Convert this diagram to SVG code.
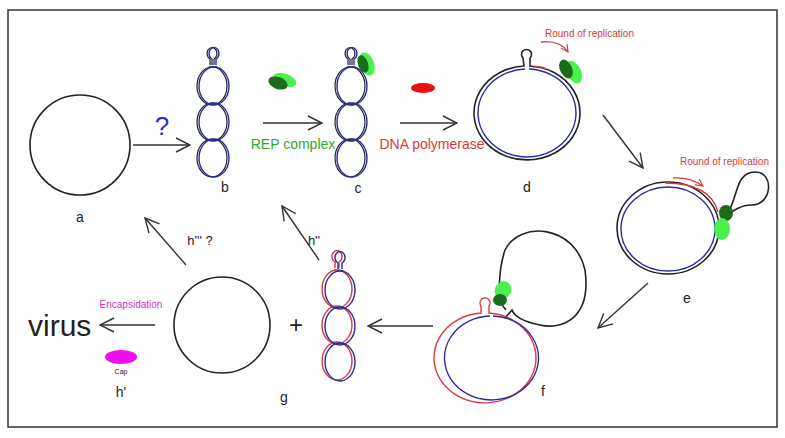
<svg xmlns="http://www.w3.org/2000/svg" width="785" height="438" viewBox="0 0 785 438">
<defs>
<style>
.t{font-family:"Liberation Sans",Arial,sans-serif;fill:#222}
.c{fill:none;stroke:#222;stroke-width:1.6}
.bl{fill:none;stroke:#2a2aa0;stroke-width:1.4}
.rd{fill:none;stroke:#d83a3a;stroke-width:1.4}
.ar{fill:none;stroke:#333;stroke-width:1.4;marker-end:url(#m)}
</style>
<marker id="m" viewBox="0 0 16 16" refX="15" refY="8" markerWidth="16" markerHeight="16" markerUnits="userSpaceOnUse" orient="auto"><path d="M1 1L15 8L1 15" fill="none" stroke="#333" stroke-width="1.4"/></marker>
<marker id="mr" viewBox="0 0 10 10" refX="9" refY="5" markerWidth="9" markerHeight="9" markerUnits="userSpaceOnUse" orient="auto"><path d="M1 1L9 5L1 9" fill="none" stroke="#d83a3a" stroke-width="1.3"/></marker>
<g id="hp">
<path d="M-2 -57V-63A5 6 0 1 1 2 -63V-57"/><path d="M-2 -56V-54M2 -56V-54"/>
<ellipse cx="0" cy="-36" rx="15" ry="19"/><ellipse cx="0" cy="0" rx="15" ry="19"/><ellipse cx="0" cy="36" rx="15" ry="19"/>
</g>
</defs>
<rect x="8" y="10" width="769" height="417" fill="#fff" stroke="#333" stroke-width="1.5"/>
<g id="connectors">
<line class="ar" x1="133" y1="145" x2="190" y2="145"/>
<line class="ar" x1="263" y1="123" x2="322" y2="123"/>
<line class="ar" x1="400" y1="123" x2="457" y2="123"/>
<line class="ar" x1="603" y1="115" x2="643" y2="168"/>
<line class="ar" x1="648" y1="283" x2="598" y2="328"/>
<line class="ar" x1="433" y1="326" x2="368" y2="326"/>
<line class="ar" x1="186" y1="265" x2="145" y2="218"/>
<line class="ar" x1="319" y1="260" x2="282" y2="206"/>
<line class="ar" x1="155" y1="325" x2="100" y2="325"/>
<path d="M541 42Q560 40 568 52" fill="none" stroke="#d83a3a" stroke-width="1.3" marker-end="url(#mr)"/>
<path d="M673 178Q690 177 703 186" fill="none" stroke="#d83a3a" stroke-width="1.3" marker-end="url(#mr)"/>
</g>
<g id="node-a"><circle class="c" cx="80" cy="145" r="50"/><text class="t" x="80" y="222" font-size="14" text-anchor="middle">a</text></g>
<text x="162" y="135" font-size="26" fill="#2a2ad0" font-family="Liberation Sans,sans-serif" text-anchor="middle">?</text>
<g id="node-b"><use href="#hp" x="212" y="122" class="c" style="stroke-width:1.2"/><use href="#hp" x="214" y="122" class="bl"/><text class="t" x="225" y="192" font-size="14" text-anchor="middle">b</text></g>
<g id="rep"><ellipse cx="285" cy="80" rx="12" ry="6" fill="#4cf04c" transform="rotate(20 285 80)"/><ellipse cx="278" cy="83" rx="10" ry="6" fill="#1a6b1a" transform="rotate(20 278 83)"/></g>
<text x="293" y="149" font-size="14" fill="#2fa82f" font-family="Liberation Sans,sans-serif" text-anchor="middle">REP complex</text>
<g id="node-c"><use href="#hp" x="350" y="122" class="c" style="stroke-width:1.2"/><use href="#hp" x="352" y="122" class="bl"/>
<ellipse cx="367" cy="64" rx="7" ry="12" fill="#4cf04c" transform="rotate(-20 367 64)"/><ellipse cx="363" cy="64" rx="5" ry="9" fill="#1a6b1a" transform="rotate(-20 363 64)"/>
<text class="t" x="358" y="193" font-size="14" text-anchor="middle">c</text></g>
<ellipse cx="423" cy="88" rx="12" ry="5" fill="#e81010"/>
<text x="432" y="149" font-size="14" fill="#d83a3a" font-family="Liberation Sans,sans-serif" text-anchor="middle">DNA polymerase</text>
<g id="node-d">
<path class="c" d="M524 66A53 47 0 1 0 530 66V58A5 5 0 1 0 523 58Z"/>
<path class="bl" d="M525 69A49 44 0 1 0 529 69"/>
<path d="M533 67Q542 66 546 69" stroke="#d83a3a" fill="none" stroke-width="1.3"/>
<ellipse cx="574" cy="72" rx="7" ry="12" fill="#4cf04c" transform="rotate(-25 574 72)"/><ellipse cx="566" cy="69" rx="6" ry="10" fill="#1a6b1a" transform="rotate(-25 566 69)"/>
<text class="t" x="527" y="192" font-size="14" text-anchor="middle">d</text>
<text x="545" y="37" font-size="10" fill="#d83a3a" font-family="Liberation Sans,sans-serif">Round of replication</text></g>
<g id="node-e">
<ellipse class="c" cx="668" cy="228" rx="51" ry="46"/>
<ellipse class="bl" cx="668" cy="229" rx="47" ry="42"/>
<path d="M665 183Q710 183 718 212" stroke="#d83a3a" fill="none" stroke-width="1.3"/>
<path class="c" d="M720 222C735 208 742 205 752 205C772 205 775 172 755 172C735 172 738 198 728 212"/>
<ellipse cx="726" cy="213" rx="7" ry="8" fill="#1a6b1a"/><ellipse cx="722" cy="229" rx="8" ry="11" fill="#4cf04c"/>
<text class="t" x="687" y="303" font-size="14" text-anchor="middle">e</text>
<text x="680" y="165" font-size="10" fill="#d83a3a" font-family="Liberation Sans,sans-serif">Round of replication</text></g>
<g id="node-f">
<path class="c" d="M506 310C495 300 500 265 505 250C520 220 575 225 585 270C592 320 560 330 540 325C525 322 515 318 512 310L505 318"/>
<path class="rd" d="M481 313A51 45 0 1 0 489 313V306A5 5 0 1 0 481 306Z"/>
<path class="bl" d="M490 316A47 42 0 1 0 493 316"/>
<ellipse cx="503" cy="290" rx="8" ry="9" fill="#4cf04c" transform="rotate(30 503 290)"/><ellipse cx="500" cy="300" rx="7" ry="6" fill="#1a6b1a"/>
<text class="t" x="543" y="396" font-size="14" text-anchor="middle">f</text></g>
<g id="node-g">
<circle class="c" cx="222" cy="325" r="48"/>
<text class="t" x="296" y="333" font-size="24" text-anchor="middle">+</text>
<use href="#hp" x="337" y="325" class="rd"/><use href="#hp" x="340" y="326" class="bl"/>
<text class="t" x="284" y="402" font-size="14" text-anchor="middle">g</text></g>
<text class="t" x="200" y="245" font-size="13" text-anchor="middle">h''' ?</text>
<text class="t" x="314" y="245" font-size="13" text-anchor="middle">h''</text>
<g id="node-virus">
<text class="t" x="28" y="336" font-size="30">virus</text>
<text x="131" y="308" font-size="10" fill="#d030d0" font-family="Liberation Sans,sans-serif" text-anchor="middle">Encapsidation</text>
<ellipse cx="121" cy="357" rx="16" ry="7" fill="#ee10ee"/>
<text class="t" x="121" y="374" font-size="7" text-anchor="middle">Cap</text>
<text class="t" x="121" y="397" font-size="14" text-anchor="middle">h'</text></g>
</svg>
